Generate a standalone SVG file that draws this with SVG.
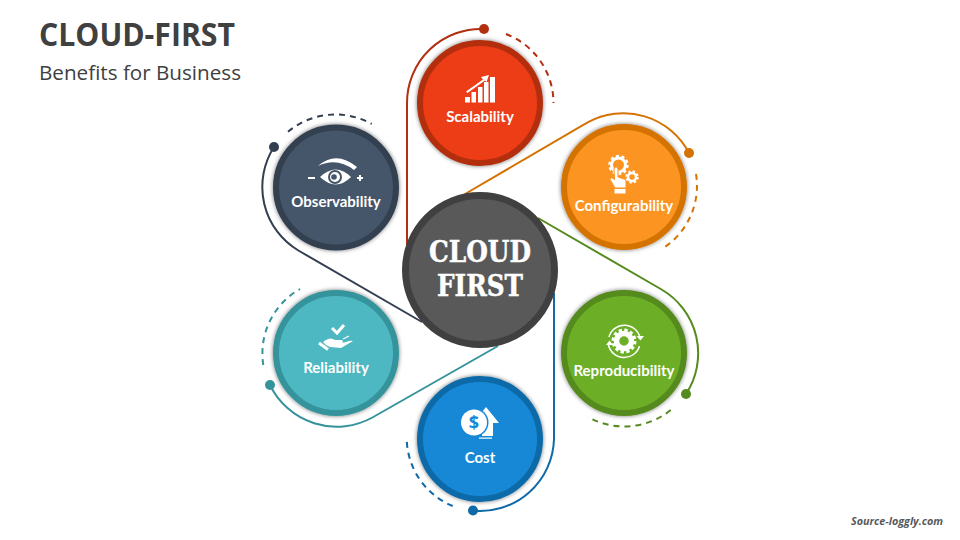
<svg xmlns="http://www.w3.org/2000/svg" width="960" height="540" viewBox="0 0 960 540">
<style>
.lb{font-family:Lato,"Liberation Sans",sans-serif;font-size:15px;font-weight:700;fill:#fff;text-anchor:middle}
.c{font-family:"DejaVu Serif","Liberation Serif",serif;font-size:29px;font-weight:700;fill:#fff;stroke:#fff;stroke-width:.5;text-anchor:middle}
.w{fill:none;stroke-width:2;stroke-linecap:butt}
.d{fill:none;stroke-width:2;stroke-dasharray:6 5}
.ic{fill:#fff}
.is{fill:none;stroke:#fff}
.ring{stroke-width:6;filter:url(#sh)}
</style>
<defs>
<filter id="sh" x="-15%" y="-15%" width="130%" height="130%"><feDropShadow dx="0" dy="0" stdDeviation="2.2" flood-color="#000" flood-opacity=".55"/></filter>
</defs>
<rect width="960" height="540" fill="#fff"/>
<g id="title">
<text x="39" y="46" font-family="'Open Sans','Liberation Sans',sans-serif" font-size="33" font-weight="700" fill="#404040" textLength="196" lengthAdjust="spacingAndGlyphs">CLOUD-FIRST</text>
<text x="39" y="80" font-family="'Open Sans','Liberation Sans',sans-serif" font-size="20" fill="#404040" textLength="202" lengthAdjust="spacingAndGlyphs">Benefits for Business</text>
</g>
<g id="connectors">
<path class="w" stroke="#B22F10" d="M407,245V103A74,74 0 0 1 484,29"/>
<path class="d" stroke="#B22F10" d="M506,34A74,74 0 0 1 553.500,103"/>
<circle cx="484" cy="29" r="5" fill="#B22F10"/>
<path class="w" stroke="#D47304" d="M465,194L587.600,122.400A74,74 0 0 1 689,153"/>
<path class="d" stroke="#D47304" d="M696,174A74,74 0 0 1 661.700,249"/>
<circle cx="689" cy="153" r="5" fill="#D47304"/>
<path class="w" stroke="#558A1E" d="M538,218L661.600,289.500A74,74 0 0 1 686,394"/>
<path class="d" stroke="#558A1E" d="M670.700,410A74,74 0 0 1 588,417"/>
<circle cx="686" cy="394" r="5" fill="#558A1E"/>
<path class="w" stroke="#0F6AA8" d="M554,293V439A74,74 0 0 1 473,510.700"/>
<path class="d" stroke="#0F6AA8" d="M452.700,506A74,74 0 0 1 406.700,437"/>
<circle cx="473" cy="510.500" r="5" fill="#0F6AA8"/>
<path class="w" stroke="#35939C" d="M498,346L372.400,417.500A74,74 0 0 1 270,385"/>
<path class="d" stroke="#35939C" d="M263.300,365A74,74 0 0 1 300,289"/>
<circle cx="270" cy="385" r="5" fill="#35939C"/>
<path class="w" stroke="#333F50" d="M422,322L298.400,250.500A74,74 0 0 1 274,147"/>
<path class="d" stroke="#333F50" d="M288,131.700A74,74 0 0 1 371.700,124"/>
<circle cx="274" cy="147" r="5" fill="#333F50"/>
</g>
<g id="scalability">
<circle class="ring" cx="480" cy="103" r="60" fill="#EC3C14" stroke="#B22F10"/>
<path class="ic" d="M465,97h5v5.500h-5zM471.500,92h4.500v10.500h-4.500zM478,87h4.500v15.500h-4.500zM484,82h4.500v20.500h-4.500zM490,77h5v25.500h-5z"/>
<path class="ic" d="M466,91.500L483,79.500L481,77L489,75L486.500,82L485,80.500L467.500,93z"/>
<text class="lb" x="480" y="122">Scalability</text>
</g>
<g id="configurability">
<circle class="ring" cx="624" cy="187" r="60" fill="#FC9423" stroke="#D47304"/>
<circle cx="618.500" cy="165" r="7" class="is" stroke-width="3"/>
<circle cx="618.500" cy="165" r="9" fill="none" stroke="#fff" stroke-width="2.500" stroke-dasharray="3 2.650"/>
<circle cx="632" cy="177" r="4" class="is" stroke-width="2.500"/>
<circle cx="632" cy="177" r="5.700" fill="none" stroke="#fff" stroke-width="2" stroke-dasharray="2.400 2.070"/>
<path class="ic" stroke="#FC9423" stroke-width="1" d="M614,169a2,2 0 0 1 4,0v8l6,2a2,2 0 0 1 2,2v7h-11l-5,-8.500l1.500,-2l3,2z"/>
<rect class="ic" x="614.500" y="189" width="11" height="4.500"/>
<text class="lb" x="624" y="211">Configurability</text>
</g>
<g id="reproducibility">
<circle class="ring" cx="624" cy="353" r="60" fill="#6CAF27" stroke="#558A1E"/>
<circle cx="624" cy="341" r="7.500" class="is" stroke-width="5.500"/>
<circle cx="624" cy="341" r="11" fill="none" stroke="#fff" stroke-width="3" stroke-dasharray="3.300 2.460"/>
<path class="is" stroke-width="1.500" d="M609,337A16,16 0 0 1 640,337.500M639.500,346A16,16 0 0 1 608.500,345"/>
<path class="ic" d="M636.500,336h7.500l-3.500,4.500zM606,345h7l-3.500,-4.500z"/>
<text class="lb" x="624" y="376">Reproducibility</text>
</g>
<g id="cost">
<circle class="ring" cx="480" cy="439" r="60" fill="#1788D6" stroke="#0F6AA8"/>
<path class="ic" d="M486,407L499,423H493V436H482V412z"/>
<circle cx="474" cy="422.500" r="14.500" fill="#1788D6"/>
<circle cx="474" cy="422.500" r="13" class="ic"/>
<text x="474" y="429" font-family="'Open Sans','Liberation Sans',sans-serif" font-size="18" font-weight="700" fill="#1788D6" text-anchor="middle">$</text>
<rect class="ic" x="479" y="437.500" width="13" height="1.200"/>
<text class="lb" x="480" y="463">Cost</text>
</g>
<g id="reliability">
<circle class="ring" cx="336" cy="353" r="60" fill="#4DB8C2" stroke="#35939C"/>
<path class="is" stroke-width="3" d="M332,328L337,333L344,325"/>
<path class="ic" d="M323,342Q330,336 335,340L342,340Q344,342 341,344L335,344.500L346,342Q351,340 353,341L341,348L330,347L326,345z"/>
<path class="is" stroke-width="3" d="M319,343L328,349.500"/>
<path class="is" stroke-width="1.200" d="M343,339L349,336"/>
<text class="lb" x="336" y="373">Reliability</text>
</g>
<g id="observability">
<circle class="ring" cx="336" cy="187.500" r="60" fill="#44546A" stroke="#333F50"/>
<path class="ic" d="M318,166Q336,150 357,167L354,170Q337,157 318,166z"/>
<path class="ic" d="M320,177Q336,162 351,177Q336,192 320,177z"/>
<circle cx="335" cy="177" r="7" fill="#44546A"/>
<circle cx="335" cy="177" r="5" class="ic"/>
<circle cx="334" cy="177" r="2.800" fill="#44546A"/>
<path class="is" stroke-width="2" d="M308,178h7M357,178h6M360,175v6"/>
<text class="lb" x="336" y="207">Observability</text>
</g>
<g id="center">
<circle cx="480" cy="270" r="74.500" fill="#595959" stroke="#404040" stroke-width="7"/>
<text class="c" x="480" y="262" textLength="102" lengthAdjust="spacingAndGlyphs">CLOUD</text>
<text class="c" x="480" y="296" textLength="86" lengthAdjust="spacingAndGlyphs">FIRST</text>
</g>
<text id="source" x="943" y="525" text-anchor="end" font-family="'Open Sans','Liberation Sans',sans-serif" font-size="10.500" font-weight="700" font-style="italic" fill="#595959" textLength="92" lengthAdjust="spacingAndGlyphs">Source-loggly.com</text>
</svg>
